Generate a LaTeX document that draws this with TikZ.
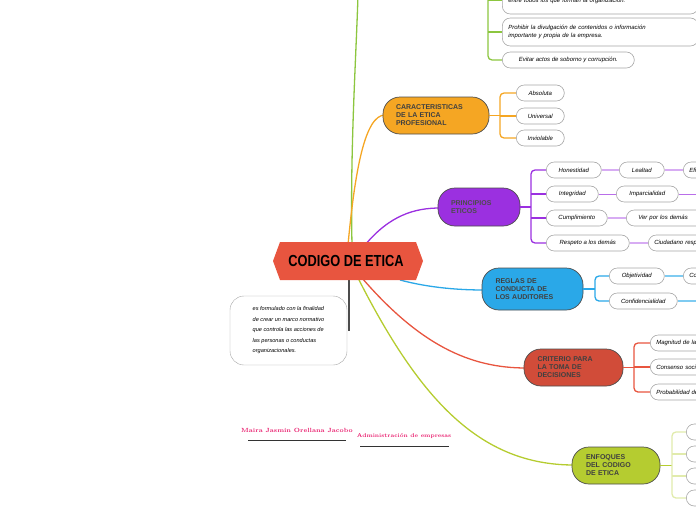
\documentclass[tikz,border=0pt]{standalone}
\usepackage{fontspec}
\setsansfont{Liberation Sans}
\usetikzlibrary{shapes.geometric}
\definecolor{cgreen}{HTML}{8CC63F}
\definecolor{corange}{HTML}{F5A623}
\definecolor{cpurple}{HTML}{9B30E0}
\definecolor{cblue}{HTML}{2AA8E8}
\definecolor{cred}{HTML}{E8553F}
\definecolor{clime}{HTML}{B5CC30}
\definecolor{cpink}{HTML}{E8186A}
\tikzset{
 leaf/.style={draw=gray!70,rounded corners=8pt,fill=white,minimum height=16pt,font=\sffamily\itshape\fontsize{6}{8}\selectfont,inner xsep=6pt,anchor=west,line width=0.6pt},
 leafl/.style={leaf,text width=#1,align=left},
 main/.style={draw=gray!60!black,rounded corners=17pt,font=\sffamily\bfseries\fontsize{7}{8}\selectfont,text=black!75,align=left,line width=0.7pt},
 br/.style={line width=1.3pt,rounded corners=4pt},
}
\begin{document}
\begin{tikzpicture}[x=1pt,y=-1pt]
\useasboundingbox (0,0) rectangle (696,520);
\clip (0,0) rectangle (696,520);
% main curves
\draw[cgreen,line width=1.3pt] (352,245) .. controls (350,150) and (356,60) .. (358,-5);
\draw[corange,line width=1.3pt] (348,245) .. controls (355,170) and (365,115) .. (385,115);
\draw[cpurple,line width=1.3pt] (365,245) .. controls (390,215) and (415,208) .. (440,208);
\draw[cblue,line width=1.3pt] (400,280) .. controls (430,288) and (460,290) .. (484,290);
\draw[cred,line width=1.3pt] (362,278) .. controls (420,345) and (470,368) .. (526,368);
\draw[clime,line width=1.3pt] (358,278) .. controls (420,400) and (480,465) .. (574,465);
\draw[black!70,line width=1.5pt] (349,278) -- (349,331);
% center
\path[fill=cred] (273,261) -- (280,242) -- (416,242) -- (423,261) -- (416,280) -- (280,280) -- cycle;
\node (center) at (346,261) {\scalebox{0.8}[1]{\fontsize{16}{16}\selectfont\sffamily\bfseries CODIGO DE ETICA}};
% note
\node[draw=gray!70,rounded corners=14pt,fill=white,minimum width=117pt,minimum height=69pt,align=left,font=\sffamily\itshape\fontsize{5.6}{10.5}\selectfont] (note) at (288.5,330.5) {es formulado con la finalidad\\de crear un marco normativo\\que controla las acciones de\\las personas o conductas\\organizacionales.};
% green top
\draw[cgreen,br] (488,-5) -- (488,60) -- (502,60);
\draw[cgreen,line width=1.3pt] (488,32) -- (502,32) (488,0) -- (502,0);
\node[leafl=184pt,minimum height=30pt] (g1) at (502,-1) {\\entre todos los que forman la organización.};
\node[leafl=184pt,minimum height=28pt] (g2) at (502,32) {Prohibir la divulgación de contenidos o información\\importante y propia de la empresa.};
\node[leaf,minimum width=132pt] (g3) at (502,60) {Evitar actos de soborno y corrupción.};
% orange
\node[main,fill=corange,minimum width=106pt,minimum height=37pt,text width=80pt] (car) at (436,115.5) {CARACTERISTICAS\\DE LA ETICA\\PROFESIONAL};
\draw[corange,br] (car.east) -- (500,115.5);
\draw[corange,br] (516,93) -- (500,93) -- (500,138) -- (516,138);
\draw[corange,line width=1.3pt] (500,116) -- (516,116);
\node[leaf,minimum width=48pt] (a1) at (516,93) {Absoluta};
\node[leaf,minimum width=48pt] (a2) at (516,116) {Universal};
\node[leaf,minimum width=48pt] (a3) at (516,138) {Inviolable};
% purple
\node[main,fill=cpurple,minimum width=82pt,minimum height=38pt,text width=56pt,text=black!70] (pri) at (479,207) {PRINCIPIOS\\ETICOS};
\draw[cpurple,br] (pri.east) -- (531,207);
\draw[cpurple,br] (546,170) -- (531,170) -- (531,243) -- (546,243);
\draw[cpurple,line width=1.3pt] (531,194) -- (546,194) (531,218) -- (546,218);
\node[leaf,minimum width=55pt] (p1) at (546,170) {Honestidad};
\node[leaf,minimum width=52pt] (p2) at (546,194) {Integridad};
\node[leaf,minimum width=61pt] (p3) at (546,218) {Cumplimiento};
\node[leaf,minimum width=83pt] (p4) at (546,243) {Respeto a los demás};
\node[leaf,minimum width=45pt] (q1) at (619,170) {Lealtad};
\node[leaf,minimum width=62pt] (q2) at (616,194) {Imparcialidad};
\node[leafl=70pt] (q3) at (626,218) {\hspace*{6pt}Ver por los demás};
\node[leafl=70pt] (q4) at (648,243) {Ciudadano resp.};
\node[leafl=40pt] (r1) at (683,170) {Eficiencia};
\draw[cpurple!40,line width=1.3pt] (p1) -- (q1) (q1) -- (r1) (p3) -- (q3) (p4) -- (q4);
\draw[cpurple!70,line width=1pt] (p2) -- (q2) (q2.east) -- (696,194);
% blue
\node[main,fill=cblue,minimum width=101pt,minimum height=42pt,text width=74pt] (reg) at (532.5,289) {REGLAS DE\\CONDUCTA DE\\LOS AUDITORES};
\draw[cblue,br] (reg.east) -- (595,289);
\draw[cblue,br] (609,276) -- (595,276) -- (595,301) -- (609,301);
\node[leaf,minimum width=55pt] (b1) at (609,276) {Objetividad};
\node[leaf,minimum width=68pt] (b2) at (609,301) {Confidencialidad};
\node[leafl=40pt] (b3) at (683,276) {Competencia};
\draw[cblue!60,line width=1.3pt] (b1) -- (b3) (b2.east) -- (696,301);
% red
\node[main,fill=cred!90!black,minimum width=99pt,minimum height=37pt,text width=72pt] (cri) at (573.5,367.5) {CRITERIO PARA\\LA TOMA DE\\DECISIONES};
\draw[cred,br] (cri.east) -- (634,367.5);
\draw[cred,br] (650,343) -- (634,343) -- (634,392) -- (650,392);
\draw[cred,line width=1.3pt] (634,367) -- (650,367);
\node[leafl=90pt] (c1) at (650,343) {Magnitud de las consecuencias};
\node[leafl=90pt] (c2) at (650,367) {Consenso social};
\node[leafl=90pt] (c3) at (650,392) {Probabilidad del efecto};
% lime
\node[main,fill=clime,minimum width=88pt,minimum height=37pt,text width=60pt] (enf) at (616,465.5) {ENFOQUES\\DEL CODIGO\\DE ETICA};
\draw[clime,br] (enf.east) -- (672,465.5);
\draw[clime!40,br] (686,432) -- (672,432) -- (672,498) -- (686,498);
\draw[clime!40,line width=1.3pt] (672,454) -- (686,454) (672,476) -- (686,476);
\foreach \y in {432,454,476,498} \node[leaf,minimum width=40pt] at (686,\y) {};
% footer
\node[text=cpink,font=\bfseries\fontsize{6}{7}\selectfont] (n1) at (297,430) {Maira Jasmin Orellana Jacobo};
\draw[black!80,line width=1pt] (248,440) -- (346,440);
\node[text=cpink,font=\bfseries\fontsize{5.5}{7}\selectfont] (n2) at (404,436) {Administración de empresas};
\draw[black!80,line width=1pt] (360,446) -- (449,446);
\end{tikzpicture}
\end{document}
